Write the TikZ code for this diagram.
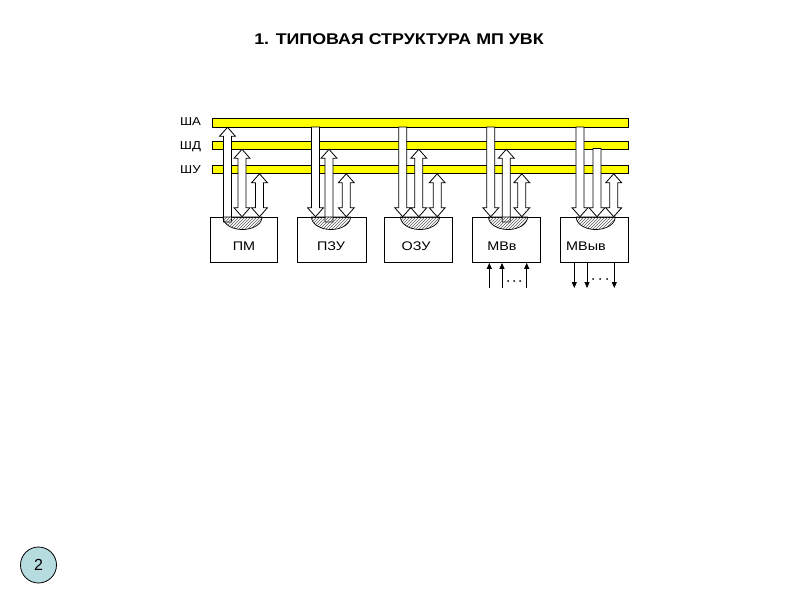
\documentclass[tikz,border=0pt]{standalone}
\usepackage{fontspec}
\setmainfont{Liberation Sans}
\usepackage{graphicx}
\usetikzlibrary{patterns,arrows.meta}
\definecolor{busyellow}{RGB}{255,255,0}
\definecolor{circfill}{RGB}{182,220,224}
\definecolor{hatchgray}{RGB}{90,90,90}
\newcommand\hw{8}
\newcommand\sw{4}
\newcommand\hl{9}
% block arrows: x, ytop, ybottom
\newcommand\BAdbl[3]{\draw[blockarr] (#1,#2) -- ({#1+\hw},{#2+\hl}) -- ({#1+\sw},{#2+\hl}) -- ({#1+\sw},{#3-\hl}) -- ({#1+\hw},{#3-\hl}) -- (#1,#3) -- ({#1-\hw},{#3-\hl}) -- ({#1-\sw},{#3-\hl}) -- ({#1-\sw},{#2+\hl}) -- ({#1-\hw},{#2+\hl}) -- cycle;}
\newcommand\BAup[3]{\draw[blockarr] (#1,#2) -- ({#1+\hw},{#2+\hl}) -- ({#1+\sw},{#2+\hl}) -- ({#1+\sw},#3) -- ({#1-\sw},#3) -- ({#1-\sw},{#2+\hl}) -- ({#1-\hw},{#2+\hl}) -- cycle;}
\newcommand\BAdown[3]{\draw[blockarr] ({#1-\sw},#2) -- ({#1+\sw},#2) -- ({#1+\sw},{#3-\hl}) -- ({#1+\hw},{#3-\hl}) -- (#1,#3) -- ({#1-\hw},{#3-\hl}) -- ({#1-\sw},{#3-\hl}) -- cycle;}
\newcommand\Hatch[1]{\draw[hatch] ({#1-19.5},217) -- plot[domain=180:0,samples=40] ({#1+19.5*cos(\x)},{217+12.5*sin(\x)}) -- cycle;}
\tikzset{
  bus/.style={draw=black, fill=busyellow, line width=0.9pt, minimum width=416pt, inner sep=0pt, anchor=north west},
  buslabel/.style={anchor=base, inner sep=0pt, font=\fontsize{11.5}{13}\selectfont},
  module/.style={draw=black, fill=white, line width=0.9pt, minimum height=45pt, inner sep=0pt, anchor=north west},
  modlabel/.style={anchor=base, inner sep=0pt, font=\fontsize{12.5}{14}\selectfont},
  blockarr/.style={draw=black, fill=white, line width=0.8pt, line join=miter},
  hatch/.style={draw=black, line width=0.7pt, pattern=north east lines, pattern color=hatchgray},
  sig/.style={draw=black, line width=0.9pt, -{Triangle[width=5pt,length=6pt]}},
}
\begin{document}
\begin{tikzpicture}[x=1pt,y=-1pt]
\useasboundingbox (0,0) rectangle (800,600);
% title
\node[anchor=base, inner sep=0pt, font=\fontsize{15.5}{18}\selectfont\bfseries] (title) at (399,44.5) {\scalebox{1.15}[1]{1. ТИПОВАЯ СТРУКТУРА МП УВК}};
% buses
\node[bus, minimum height=9.5pt] (sha) at (211.5,117.5) {};
\node[bus, minimum height=8pt] (shd) at (211.5,140.5) {};
\node[bus, minimum height=8pt] (shu) at (211.5,165) {};
\node[buslabel] (lsha) at (190.5,125.7) {\scalebox{1.15}[1]{ША}};
\node[buslabel] (lshd) at (190.5,149.3) {\scalebox{1.15}[1]{ШД}};
\node[buslabel] (lshu) at (190.5,173) {\scalebox{1.15}[1]{ШУ}};
% modules
\node[module, minimum width=67pt] (pm) at (210,217) {};
\node[module, minimum width=68.5pt] (pzu) at (297,217) {};
\node[module, minimum width=68pt] (ozu) at (384,217) {};
\node[module, minimum width=68pt] (mvv) at (472,217) {};
\node[module, minimum width=67.5pt] (mvyv) at (560,217) {};
\node[modlabel] (tpm) at (244,250.5) {\scalebox{1.15}[1]{ПМ}};
\node[modlabel] (tpzu) at (331,250.5) {\scalebox{1.15}[1]{ПЗУ}};
\node[modlabel] (tozu) at (416,250.5) {\scalebox{1.15}[1]{ОЗУ}};
\node[modlabel] (tmvv) at (502,250.5) {\scalebox{1.15}[1]{МВв}};
\node[modlabel] (tmvyv) at (586,250.5) {\scalebox{1.15}[1]{МВыв}};
% block arrows
% PM
\BAup{227.5}{127.3}{222}
\BAdbl{242}{149.3}{216.7}
\BAdbl{259.5}{173.8}{216.7}
% PZU
\BAdown{315.5}{127}{216.7}
\BAup{329}{149.3}{222}
\BAdbl{346.3}{173.8}{216.7}
% OZU
\BAdown{402.7}{127}{216.7}
\BAdbl{418.8}{149.3}{216.7}
\BAdbl{437.2}{173.8}{216.7}
% MVv
\BAdown{490.8}{127}{216.7}
\BAup{506.3}{149.3}{222}
\BAdbl{521.8}{173.8}{216.7}
% MVyv
\BAdown{580}{127}{216.7}
\BAdown{597}{148.5}{216.7}
\BAdbl{613.7}{173.8}{216.7}
% hatched contact areas
\Hatch{242.5}
\Hatch{331}
\Hatch{420}
\Hatch{508}
\Hatch{595.7}
% input signals
\coordinate (in1) at (489.3,288);
\coordinate (in2) at (502,288);
\coordinate (in3) at (526.7,288);
\draw[sig] (in1) -- (in1 |- mvv.south);
\draw[sig] (in2) -- (in2 |- mvv.south);
\draw[sig] (in3) -- (in3 |- mvv.south);
\foreach \d in {508,514,520} \fill (\d,281) circle (1pt);
% output signals
\coordinate (out1) at (574.3,288);
\coordinate (out2) at (587,288);
\coordinate (out3) at (614.3,288);
\draw[sig] (out1 |- mvyv.south) -- (out1);
\draw[sig] (out2 |- mvyv.south) -- (out2);
\draw[sig] (out3 |- mvyv.south) -- (out3);
\foreach \d in {593,600,607} \fill (\d,279) circle (1pt);
% page number
\node[circle, draw=black, fill=circfill, line width=0.8pt, minimum size=36pt, inner sep=0pt, font=\fontsize{16}{18}\selectfont] (page) at (38.5,565) {2};
\end{tikzpicture}
\end{document}
